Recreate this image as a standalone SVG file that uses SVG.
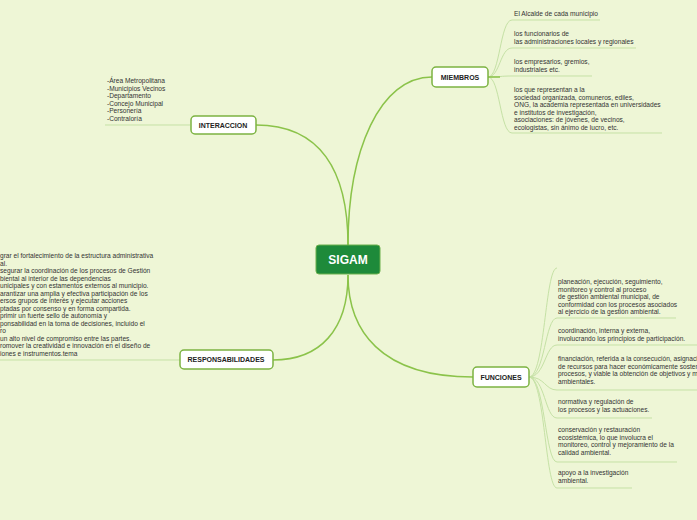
<svg xmlns="http://www.w3.org/2000/svg" width="697" height="520" viewBox="0 0 697 520">
<style>
text{font-family:"Liberation Sans",Arial,sans-serif;font-size:6.6px;fill:#333}
.n{fill:#fff;stroke:#7cb342;stroke-width:1.5}
.nt{font-size:7px;font-weight:bold;fill:#222;text-anchor:middle}
.c{fill:none;stroke:#8bc34a;stroke-width:1.5}
.u{fill:none;stroke:#c5e1a5;stroke-width:1}
</style>
<rect width="697" height="520" fill="#eef6d6"/>
<g id="connectors">
<path class="c" d="M348,245 C348,150 380,77 432,77"/>
<path class="c" d="M348,275 C348,330 380,377 473,377"/>
<path class="c" d="M348,245 C348,170 320,125 256,125"/>
<path class="c" d="M348,275 C348,330 320,360 273,360"/>
<path class="u" d="M488,77 C500,77 500,20 512,20 L600,20 M488,77 C500,77 500,48 512,48 L636,48 M488,77 C500,77 500,76 512,76 L592,76 M488,77 C500,77 500,133 512,133 L662,133"/>
<path class="c" d="M488,77 L500,77"/>
<path class="u" d="M529,377 C545,377 545,268 557,268 M529,377 C545,377 545,318 557,318 L676,318 M529,377 C545,377 545,345 557,345 L697,345 M529,377 C545,377 545,390 557,390 L697,390 M529,377 C545,377 545,418 557,418 L652,418 M529,377 C545,377 545,462 557,462 L677,462 M529,377 C545,377 545,488 557,488 L632,488"/>
<path class="u" d="M190,125 L105,125 M180,360 L0,360"/>
</g>
<g id="sigam"><rect x="316" y="245" width="64" height="29" rx="3" fill="#1e8a3a" stroke="#6ab04c"/><text x="348" y="264" style="font-size:12px;font-weight:bold;fill:#fff" text-anchor="middle">SIGAM</text></g>
<g id="miembros"><rect class="n" x="432" y="67" width="56" height="20" rx="4"/><text class="nt" x="460" y="80">MIEMBROS</text></g>
<g id="interaccion"><rect class="n" x="191" y="116" width="65" height="18" rx="4"/><text class="nt" x="223" y="128">INTERACCION</text></g>
<g id="responsabilidades"><rect class="n" x="180" y="350" width="93" height="19" rx="4"/><text class="nt" x="226" y="362">RESPONSABILIDADES</text></g>
<g id="funciones"><rect class="n" x="473" y="367" width="56" height="20" rx="4"/><text class="nt" x="501" y="380">FUNCIONES</text></g>
<g id="miembros-text">
<text x="514" y="16">El Alcalde de cada municipio</text>
<text x="514" y="36">los funcionarios de<tspan x="514" dy="8">las administraciones locales y regionales</tspan></text>
<text x="514" y="64">los empresarios, gremios,<tspan x="514" dy="8">industriales etc.</tspan></text>
<text x="514" y="92">los que representan a la<tspan x="514" dy="7.5">sociedad organizada, comuneros, ediles,</tspan><tspan x="514" dy="7.5">ONG, la academia representada en universidades</tspan><tspan x="514" dy="7.5">e institutos de investigación,</tspan><tspan x="514" dy="7.5">asociaciones: de jóvenes, de vecinos,</tspan><tspan x="514" dy="7.5">ecologistas, sin ánimo de lucro, etc.</tspan></text>
</g>
<g id="interaccion-text"><text x="107" y="83">-Área Metropolitana<tspan x="107" dy="7.5">-Municipios Vecinos</tspan><tspan x="107" dy="7.5">-Departamento</tspan><tspan x="107" dy="7.5">-Concejo Municipal</tspan><tspan x="107" dy="7.5">-Personería</tspan><tspan x="107" dy="7.5">-Contraloría</tspan></text></g>
<g id="resp-text"><text x="0" y="258">grar el fortalecimiento de la estructura administrativa<tspan x="0" dy="7.5">al.</tspan><tspan x="0" dy="7.5">segurar la coordinación de los procesos de Gestión</tspan><tspan x="0" dy="7.5">biental al interior de las dependencias</tspan><tspan x="0" dy="7.5">unicipales y con estamentos externos al municipio.</tspan><tspan x="0" dy="7.5">arantizar una amplia y efectiva participación de los</tspan><tspan x="0" dy="7.5">ersos grupos de interés y ejecutar acciones</tspan><tspan x="0" dy="7.5">ptadas por consenso y en forma compartida.</tspan><tspan x="0" dy="7.5">primir un fuerte sello de autonomía y</tspan><tspan x="0" dy="7.5">ponsabilidad en la toma de decisiones, incluido el</tspan><tspan x="0" dy="7.5">ro</tspan><tspan x="0" dy="7.5">un alto nivel de compromiso entre las partes.</tspan><tspan x="0" dy="7.5">romover la creatividad e innovación en el diseño de</tspan><tspan x="0" dy="7.5">iones e instrumentos.tema</tspan></text></g>
<g id="funciones-text">
<text x="558" y="284">planeación, ejecución, seguimiento,<tspan x="558" dy="7.5">monitoreo y control al proceso</tspan><tspan x="558" dy="7.5">de gestión ambiental municipal, de</tspan><tspan x="558" dy="7.5">conformidad con los procesos asociados</tspan><tspan x="558" dy="7.5">al ejercicio de la gestión ambiental.</tspan></text>
<text x="558" y="333">coordinación, interna y externa,<tspan x="558" dy="8">involucrando los principios de participación.</tspan></text>
<text x="558" y="361">financiación, referida a la  consecución, asignación<tspan x="558" dy="7.5">de recursos para hacer económicamente sostenibles los</tspan><tspan x="558" dy="7.5">procesos, y viable la obtención de objetivos y metas</tspan><tspan x="558" dy="7.5">ambientales.</tspan></text>
<text x="558" y="404">normativa y regulación de<tspan x="558" dy="8">los procesos y las actuaciones.</tspan></text>
<text x="558" y="432">conservación y restauración<tspan x="558" dy="7.5">ecosistémica, lo que involucra el</tspan><tspan x="558" dy="7.5">monitoreo, control y mejoramiento de la</tspan><tspan x="558" dy="7.5">calidad ambiental.</tspan></text>
<text x="558" y="475">apoyo a la investigación<tspan x="558" dy="8">ambiental.</tspan></text>
</g>
</svg>
